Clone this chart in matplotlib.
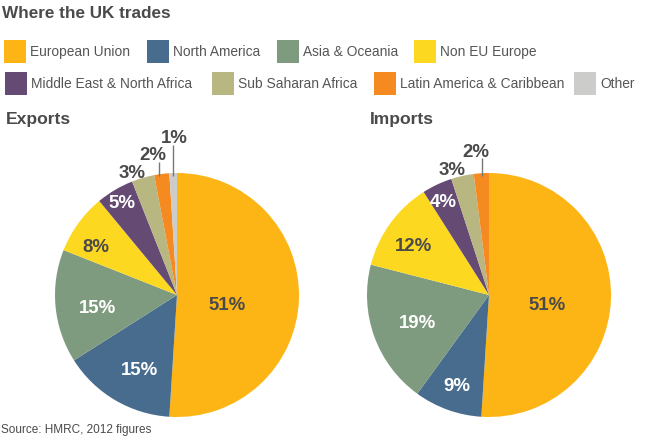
import matplotlib
matplotlib.use("Agg")
import matplotlib.pyplot as plt
from matplotlib.patches import Rectangle

plt.rcParams['font.family'] = ['Liberation Sans', 'DejaVu Sans']

# -----------------------------
# Data
# -----------------------------
regions = ["European Union", "North America", "Asia & Oceania", "Non EU Europe",
           "Middle East & North Africa", "Sub Saharan Africa",
           "Latin America & Caribbean", "Other"]
colors = ["#FDB515", "#476C8E", "#7F9B7F", "#FCD920",
          "#654A74", "#B8B681", "#F58A20", "#CCCCCA"]
exports = [51, 15, 15, 8, 5, 3, 2, 1]
imports = [51, 9, 19, 12, 4, 3, 2]

# -----------------------------
# Layout (pixels from the top left, text y is the baseline)
# -----------------------------
W, H = 660, 437
DARK = "#4A4A4A"
RADIUS = 122
swatch_xy = [(4, 40), (147, 40), (277, 40), (414, 40),
             (5, 72), (212, 72), (374, 72), (574, 72)]
exports_label_xy = [(227, 310), (139, 375), (98, 313), (96, 252),
                    (122, 208), (132, 178), (153, 160), (174, 143)]
imports_label_xy = [(547, 310), (457, 391), (418, 328), (414, 251),
                    (443, 207), (452, 175), (476, 157)]
exports_label_colors = [DARK, "white", "white", DARK, "white", DARK, DARK, DARK]
imports_label_colors = [DARK, "white", "white", DARK, "white", DARK, DARK]

fig = plt.figure(figsize=(W / 100, H / 100), dpi=100)
ax = fig.add_axes([0, 0, 1, 1])


def py(y):
    return H - y


def draw_pie(values, cx, label_xy, label_colors):
    ax.pie(values, colors=colors[:len(values)], startangle=90, counterclock=False,
           center=(cx, py(295)), radius=RADIUS, wedgeprops={"linewidth": 0})
    for v, (x, y), c in zip(values, label_xy, label_colors):
        ax.text(x, py(y), f"{v}%", color=c, fontsize=13.4, fontweight="bold",
                ha="center", va="baseline")


draw_pie(exports, 177, exports_label_xy, exports_label_colors)
draw_pie(imports, 489, imports_label_xy, imports_label_colors)

# leader lines
for x, y0 in [(159, 162), (172.5, 145), (482, 158)]:
    ax.plot([x, x], [py(y0), py(176)], color="#777777", lw=1, solid_capstyle="butt")

# -----------------------------
# Legend
# -----------------------------
for name, col, (x, y) in zip(regions, colors, swatch_xy):
    ax.add_patch(Rectangle((x, py(y + 23)), 22, 23, facecolor=col, edgecolor="none"))
    ax.text(x + 26, py(y + 16), name, color="#555555", fontsize=9.9,
            ha="left", va="baseline")

# -----------------------------
# Titles
# -----------------------------
ax.text(2, py(18), "Where the UK trades", color=DARK, fontsize=12.3,
        fontweight="bold", ha="left", va="baseline")
ax.text(6, py(124), "Exports", color=DARK, fontsize=12.6, fontweight="bold",
        ha="left", va="baseline")
ax.text(370, py(124), "Imports", color=DARK, fontsize=12.6, fontweight="bold",
        ha="left", va="baseline")
ax.text(1, py(433), "Source: HMRC, 2012 figures", color=DARK, fontsize=8.5,
        ha="left", va="baseline")

ax.set_xlim(0, W)
ax.set_ylim(0, H)
ax.set_aspect("equal")
ax.axis("off")

fig.savefig("out.png", dpi=100, facecolor="white")
plt.close(fig)
